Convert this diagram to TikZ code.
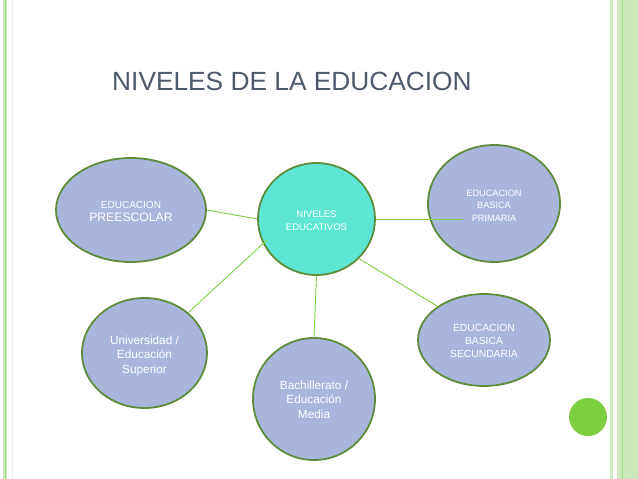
\documentclass[tikz,border=0pt]{standalone}
\usepackage{fontspec}
\setmainfont{Liberation Sans}
\usetikzlibrary{shapes.geometric}
\definecolor{peri}{HTML}{A8B6DC}
\definecolor{bord}{HTML}{5D8C3A}
\definecolor{turq}{HTML}{5EE6D5}
\definecolor{conn}{HTML}{7FCF45}
\definecolor{dotc}{HTML}{7CCF3E}
\definecolor{titc}{HTML}{4E596B}
\definecolor{stripe}{HTML}{CBEABD}
\definecolor{stripeD}{HTML}{9ED97E}
\tikzset{
  bubble/.style={ellipse, draw=bord, line width=1.8pt, fill=peri, inner sep=0pt},
  btext/.style={text=white, align=center, inner sep=0pt},
  link/.style={draw=conn, line width=0.9pt},
}
\begin{document}
\begin{tikzpicture}[x=1pt,y=-1pt]
\useasboundingbox (0,0) rectangle (638,479);
\fill[white] (0,0) rectangle (638,479);
% borders
\fill[stripe] (3.3,0) rectangle (7.3,479);
\draw[stripeD, line width=0.8pt] (5.3,0) -- (5.3,479);
\draw[stripe!40, line width=0.6pt] (12.7,0) -- (12.7,479);
\fill[stripe] (610,0) rectangle (613,479);
\fill[stripe] (617,0) rectangle (638,479);
\draw[stripeD, line width=1pt] (622.5,0) -- (622.5,479);
% title
\node[anchor=base west, text=titc, font=\fontsize{26.3}{30}\selectfont, inner sep=0pt] (title) at (112,90) {NIVELES DE LA EDUCACION};
% nodes
\node[bubble, minimum width=150pt, minimum height=104pt,
  label={[btext, yshift=-1.5pt]center:{{\fontsize{10}{13}\selectfont EDUCACION}\\[1.5pt]{\fontsize{12.2}{14}\selectfont PREESCOLAR}}}] (pre) at (131,210) {};
\node[bubble, fill=turq, minimum width=117pt, minimum height=112pt,
  label={[btext, yshift=-2pt, font=\fontsize{9.5}{13}\selectfont]center:{NIVELES\\EDUCATIVOS}}] (c) at (316.5,219) {};
\node[bubble, minimum width=132pt, minimum height=117pt,
  label={[btext, yshift=-2pt, font=\fontsize{9.2}{12.5}\selectfont]center:{EDUCACION\\BASICA\\PRIMARIA}}] (prim) at (494,203.5) {};
\node[bubble, minimum width=132pt, minimum height=92pt,
  label={[btext, yshift=-1pt, font=\fontsize{10.3}{13}\selectfont]center:{EDUCACION\\BASICA\\SECUNDARIA}}] (sec) at (484,340) {};
\node[bubble, minimum width=125pt, minimum height=110pt,
  label={[btext, yshift=-2.5pt, font=\fontsize{11.8}{14.5}\selectfont]center:{Universidad /\\Educación\\Superior}}] (uni) at (144.5,353) {};
\node[bubble, minimum width=122pt, minimum height=122pt,
  label={[btext, yshift=-0.5pt, font=\fontsize{11.8}{14.5}\selectfont]center:{Bachillerato /\\Educación\\Media}}] (bach) at (314,399) {};
\node[circle, fill=dotc, minimum size=38pt, inner sep=0pt] (dot) at (588,417) {};
% connectors
\coordinate (pe) at (463,219);
\coordinate (ui) at (267,240);
\draw[link] (pre.east) -- (c.west);
\draw[link] (c.east) -- (pe);
\draw[link] (ui) -- (uni);
\draw[link] (c.south) -- (bach.north);
\draw[link] (c.-43) -- (sec.144);
\end{tikzpicture}
\end{document}
